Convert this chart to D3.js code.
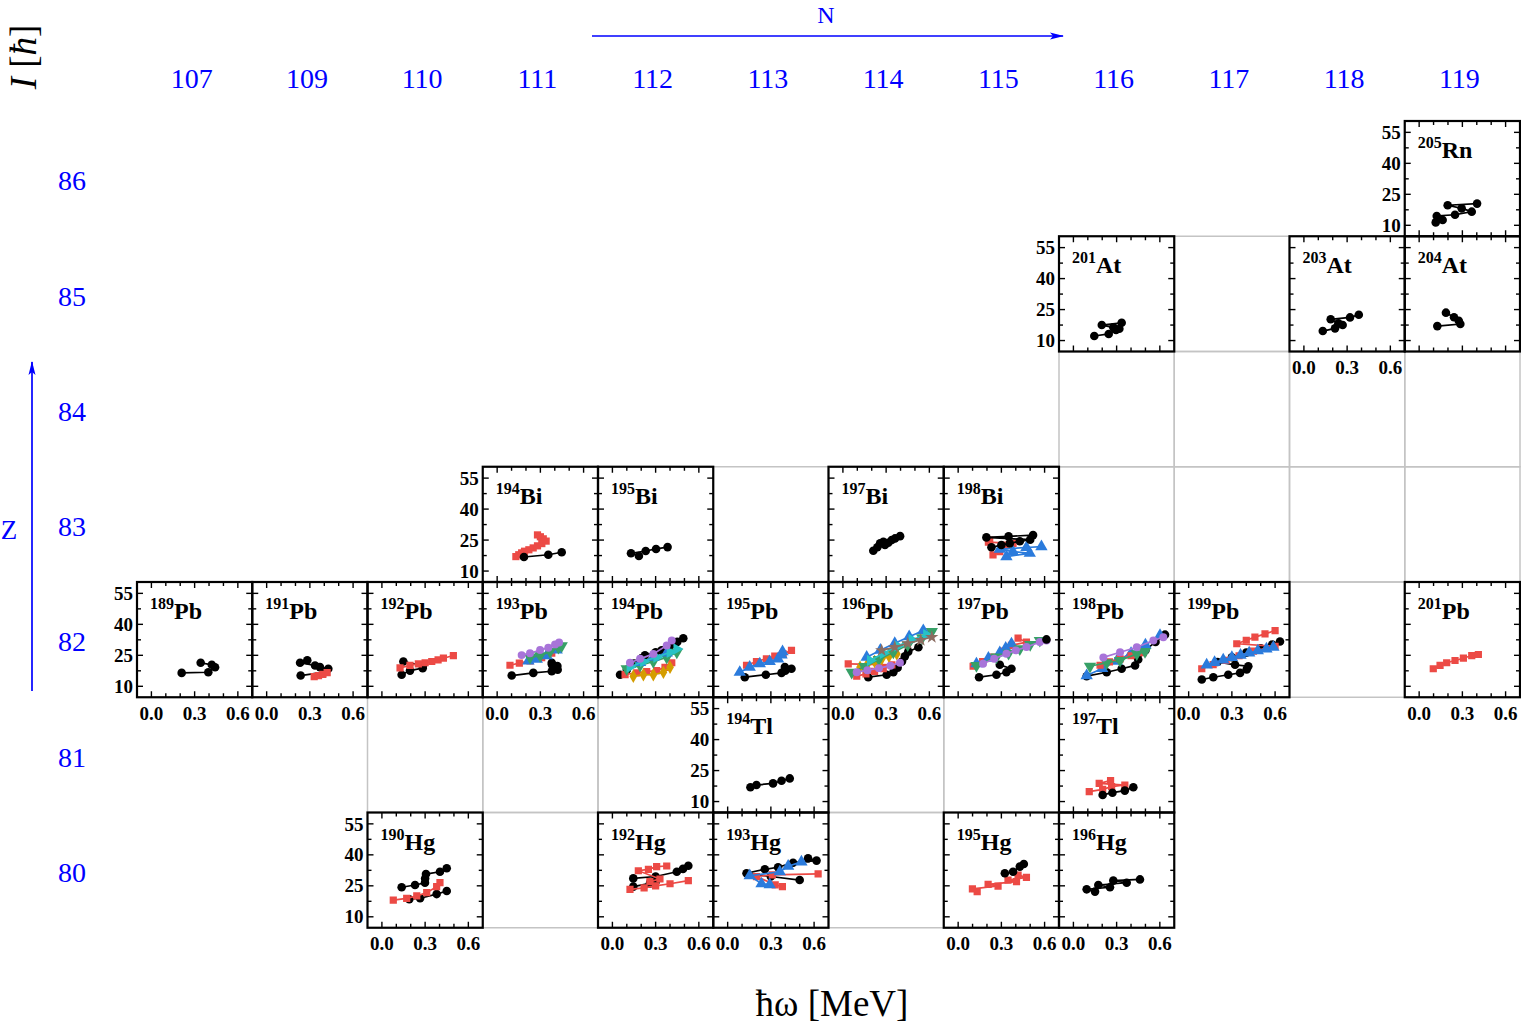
<!DOCTYPE html>
<html><head><meta charset="utf-8">
<script src="https://cdn.jsdelivr.net/npm/d3@7"></script>
<style>body{margin:0;background:#fff}svg{display:block}</style>
</head><body><svg id="c" width="1521" height="1024"></svg>
<script>
// ---------- categories / ticks ----------
const nColumns = [107,109,110,111,112,113,114,115,116,117,118,119];
const zRows = [86,85,84,83,82,81,80];
const wTicksMajor = [0.0,0.3,0.6];
const wTicksAll = [0,0.1,0.2,0.3,0.4,0.5,0.6];
const iTicksMajor = [10,25,40,55];
const iTicksAll = [10,17.5,25,32.5,40,47.5,55];
// [element, A, Z, N]
const nuclei = [
 ["Rn",205,86,119],
 ["At",201,85,116],["At",203,85,118],["At",204,85,119],
 ["Bi",194,83,111],["Bi",195,83,112],["Bi",197,83,114],["Bi",198,83,115],
 ["Pb",189,82,107],["Pb",191,82,109],["Pb",192,82,110],["Pb",193,82,111],["Pb",194,82,112],
 ["Pb",195,82,113],["Pb",196,82,114],["Pb",197,82,115],["Pb",198,82,116],["Pb",199,82,117],["Pb",201,82,119],
 ["Tl",194,81,113],["Tl",197,81,116],
 ["Hg",190,80,110],["Hg",192,80,112],["Hg",193,80,113],["Hg",195,80,115],["Hg",196,80,116]
];
// empty framed cells [Z, N]
const emptyCells = [[85,117],[84,116],[84,117],[84,118],[84,119],[83,113],[83,116],[83,117],[83,118],[83,119],
 [82,118],[81,110],[81,111],[81,112],[81,114],[81,115],[80,111],[80,114]];

// ---------- series: [colorKey, [[hbar-omega (MeV), I (hbar)], ...]] ----------
const Rn205 = [["k",[[0.115,11.4],[0.163,12.6],[0.122,14.5],[0.249,15.1],[0.365,16.6],[0.295,18.2],[0.198,19.7],[0.402,20.5]]]];
const At201 = [["k",[[0.145,12.2],[0.245,13.2],[0.296,15.1],[0.319,15.7],[0.277,16.4],[0.197,17.5],[0.335,18.6]]]];
const At203 = [["k",[[0.131,14.6],[0.216,15.9],[0.269,17.5],[0.239,18.3],[0.186,20.3],[0.320,21.2],[0.381,22.5]]]];
const At204 = [["k",[[0.126,17.0],[0.286,18.0],[0.275,19.6],[0.242,21.3],[0.186,23.5]]]];
const Bi194 = [["r",[[0.13,17.0],[0.15,17.9],[0.17,18.8],[0.19,19.6],[0.22,20.3],[0.25,21.2],[0.28,22.2],[0.31,23.3],[0.34,24.5],[0.32,25.6],[0.30,26.6],[0.28,27.5]]],
 ["k",[[0.186,16.8],[0.355,17.9],[0.448,19.1]]]];
const Bi195 = [["k",[[0.184,17.3],[0.129,18.6],[0.231,19.7],[0.303,20.7],[0.383,21.6]]]];
const Bi197 = [["k",[[0.211,19.8],[0.239,21.5],[0.292,22.6],[0.258,23.4],[0.315,23.7],[0.281,24.2],[0.339,25.0],[0.362,25.8],[0.397,26.9]]]];
const Bi198 = [["r",[[0.242,17.8],[0.289,19.4],[0.324,22.6],[0.381,23.4],[0.21,24.0],[0.219,25.0]]],
 ["b",[[0.335,17.0],[0.497,18.6],[0.38,19.4],[0.289,20.6],[0.474,21.4],[0.578,21.8]]],
 ["k",[[0.231,21.5],[0.30,22.6],[0.358,23.4],[0.428,24.4],[0.50,25.2],[0.196,26.3],[0.35,26.8],[0.52,27.4]]]];
const Pb189 = [["k",[[0.21,16.5],[0.395,16.8],[0.442,19.2],[0.419,20.4],[0.342,21.4]]]];
const Pb191 = [["k",[[0.236,15.2],[0.41,17.0],[0.428,18.5],[0.37,19.3],[0.336,20.1],[0.232,21.4],[0.282,22.6]]],
 ["r",[[0.33,14.7],[0.36,15.2],[0.39,15.8],[0.42,16.6]]]];
const Pb192 = [["k",[[0.137,15.6],[0.195,17.6],[0.283,18.8],[0.285,19.9],[0.149,22.0]]],
 ["r",[[0.126,18.9],[0.195,20.1],[0.253,20.9],[0.30,21.4],[0.346,22.0],[0.39,22.8],[0.427,23.6],[0.496,24.9]]]];
const Pb193 = [["k",[[0.101,15.2],[0.251,16.5],[0.379,17.3],[0.42,18.0],[0.418,19.8],[0.38,20.5],[0.379,21.4]]],
 ["r",[[0.089,20.2],[0.154,21.2],[0.228,22.3],[0.309,23.9],[0.379,26.0],[0.432,29.6]]],
 ["b",[[0.217,22.3],[0.275,23.1],[0.344,24.8],[0.413,27.6]]],
 ["g",[[0.228,24.0],[0.298,24.8],[0.367,26.8],[0.425,28.8],[0.448,29.6]]],
 ["p",[[0.17,25.1],[0.228,26.0],[0.298,27.6],[0.355,28.7],[0.402,30.3],[0.43,31.2]]]];
const Pb194 = [["k",[[0.053,15.6],[0.10,18.0],[0.15,21.0],[0.20,23.5],[0.226,25.0],[0.30,26.5],[0.342,27.4],[0.40,29.5],[0.45,31.5],[0.492,33.3]]],
 ["r",[[0.088,15.7],[0.169,16.5],[0.238,17.1],[0.307,17.6],[0.365,19.2],[0.412,21.4]]],
 ["y",[[0.145,14.9],[0.215,15.6],[0.284,15.6],[0.354,16.8],[0.40,19.2]]],
 ["g",[[0.099,18.5],[0.192,20.1],[0.284,22.0],[0.377,24.0],[0.447,26.5]]],
 ["b",[[0.192,21.5],[0.284,24.1],[0.377,26.1]]],
 ["c",[[0.122,19.3],[0.215,22.0],[0.307,24.1],[0.40,26.5],[0.447,28.1]]],
 ["p",[[0.122,21.4],[0.192,23.3],[0.284,25.7],[0.377,29.8],[0.412,32.2]]]];
const Pb195 = [["k",[[0.119,14.4],[0.265,15.6],[0.374,16.5],[0.40,17.5],[0.443,18.5],[0.397,19.3]]],
 ["r",[[0.131,20.2],[0.20,22.0],[0.269,23.3],[0.327,24.6],[0.385,25.7],[0.443,27.4]]],
 ["b",[[0.084,16.8],[0.153,19.3],[0.223,20.9],[0.292,22.0],[0.35,23.3],[0.374,25.2],[0.381,26.8]]]];
const Pb196 = [["k",[[0.176,14.4],[0.304,15.6],[0.35,16.8],[0.38,19.0],[0.41,22.0],[0.43,24.5],[0.454,26.8],[0.524,28.9]]],
 ["r",[[0.096,14.9],[0.16,16.0],[0.22,17.2],[0.28,18.6],[0.34,20.4],[0.037,20.9]]],
 ["y",[[0.119,19.2],[0.17,20.7],[0.22,22.0],[0.27,23.3],[0.32,24.5],[0.374,25.7]]],
 ["g",[[0.061,16.8],[0.15,19.5],[0.25,23.0],[0.35,26.5],[0.45,30.0],[0.55,33.5],[0.617,36.5]]],
 ["b",[[0.165,24.1],[0.26,27.5],[0.36,30.8],[0.46,34.0],[0.558,37.0]]],
 ["c",[[0.19,22.5],[0.28,26.0],[0.38,29.5],[0.48,32.5],[0.58,35.0]]],
 ["p",[[0.096,16.8],[0.17,17.8],[0.25,18.8],[0.33,20.0],[0.396,21.4]]],
 ["n",[[0.269,27.4],[0.36,29.0],[0.45,30.8],[0.54,32.4],[0.617,33.8]]]];
const Pb197 = [["k",[[0.145,14.4],[0.266,15.6],[0.335,16.8],[0.37,18.5],[0.289,20.4]]],
 ["r",[[0.104,19.7],[0.17,21.9],[0.242,24.1],[0.31,27.0],[0.37,29.8],[0.474,31.4],[0.416,33.3]]],
 ["b",[[0.127,20.9],[0.21,23.6],[0.289,26.3],[0.33,28.5],[0.37,30.6]]],
 ["g",[[0.127,20.0],[0.266,24.1],[0.35,26.0],[0.428,28.1],[0.50,30.2],[0.567,32.2]]],
 ["p",[[0.173,20.9],[0.25,23.3],[0.335,25.8],[0.40,27.4],[0.474,29.0],[0.567,31.4],[0.613,32.2]]],
 ["k",[[0.613,32.7]]]];
const Pb198 = [["k",[[0.092,14.9],[0.231,16.8],[0.335,18.5],[0.428,20.1],[0.45,23.0],[0.50,27.5],[0.57,31.5],[0.636,35.0]]],
 ["b",[[0.092,15.2],[0.20,18.6],[0.30,22.2],[0.40,26.0],[0.50,30.0],[0.601,34.6]]],
 ["r",[[0.185,20.2],[0.25,21.8],[0.324,23.3],[0.40,24.8],[0.486,26.3]]],
 ["g",[[0.115,19.7],[0.231,21.4],[0.324,22.5],[0.44,25.7],[0.497,26.8]]],
 ["p",[[0.208,24.0],[0.324,26.5],[0.44,28.9],[0.555,32.2],[0.624,33.8]]]];
const Pb199 = [["k",[[0.091,13.3],[0.171,14.4],[0.275,15.6],[0.357,16.5],[0.403,18.2],[0.414,19.7],[0.322,20.4],[0.20,21.8],[0.30,24.1],[0.40,26.3],[0.50,28.4],[0.58,30.2],[0.634,31.7]]],
 ["r",[[0.091,18.5],[0.17,20.5],[0.26,22.6],[0.35,24.8],[0.45,27.0],[0.60,29.4],[0.334,30.6],[0.40,32.3],[0.46,33.8],[0.53,35.4],[0.60,37.0]]],
 ["b",[[0.125,20.4],[0.18,21.6],[0.24,22.8],[0.30,24.0],[0.36,25.1],[0.42,26.2],[0.48,27.2],[0.54,28.1],[0.588,28.9]]]];
const Pb201 = [["r",[[0.098,18.5],[0.145,20.1],[0.191,21.4],[0.249,22.5],[0.307,23.6],[0.365,24.9],[0.411,25.4]]]];
const Tl194 = [["k",[[0.158,16.9],[0.20,18.0],[0.315,18.8],[0.374,20.1],[0.431,21.2]]]];
const Tl197 = [["r",[[0.11,14.8],[0.203,15.9],[0.265,17.2],[0.357,18.0],[0.179,18.8],[0.258,20.1]]],
 ["k",[[0.203,13.2],[0.271,14.3],[0.357,15.3],[0.416,16.9]]]];
const Hg190 = [["k",[[0.137,24.3],[0.23,25.4],[0.299,26.5],[0.30,28.5],[0.306,30.7],[0.403,31.8],[0.45,33.5]]],
 ["k",[[0.19,18.5],[0.265,19.0],[0.38,21.0],[0.45,22.5]]],
 ["r",[[0.079,18.1],[0.172,18.9],[0.242,20.1],[0.311,21.7],[0.38,24.6],[0.403,26.5]]]];
const Hg192 = [["k",[[0.145,24.6],[0.261,26.2],[0.30,27.0]]],
 ["k",[[0.145,28.6],[0.30,29.5],[0.447,31.8],[0.49,33.2],[0.527,34.7]]],
 ["r",[[0.122,23.3],[0.22,24.0],[0.30,25.0],[0.40,26.0],[0.527,27.5]]],
 ["r",[[0.26,27.0],[0.33,28.3],[0.18,32.3],[0.25,33.0],[0.307,34.3],[0.377,34.6]]]];
const Hg193 = [["k",[[0.5,27.8],[0.30,29.5],[0.131,31.1],[0.258,33.0],[0.35,34.0],[0.454,36.2],[0.617,37.2],[0.558,38.3]]],
 ["r",[[0.38,24.6],[0.33,25.5],[0.20,29.5],[0.31,30.3],[0.628,30.8]]],
 ["b",[[0.292,25.6],[0.235,26.0],[0.153,29.9],[0.362,31.8],[0.42,34.5],[0.512,36.6]]]];
const Hg195 = [["r",[[0.132,22.2],[0.099,23.5],[0.277,24.9],[0.208,25.7],[0.405,27.0],[0.346,27.8],[0.474,29.1],[0.416,30.2]]],
 ["k",[[0.324,31.1],[0.381,31.8],[0.428,34.3],[0.456,35.6]]]];
const Hg196 = [["k",[[0.15,22.2],[0.092,23.3],[0.254,24.3],[0.173,25.4],[0.37,26.5],[0.277,27.5],[0.462,28.1]]]];

const seriesData = {Rn205,At201,At203,At204,Bi194,Bi195,Bi197,Bi198,Pb189,Pb191,Pb192,Pb193,Pb194,Pb195,Pb196,Pb197,Pb198,Pb199,Pb201,Tl194,Tl197,Hg190,Hg192,Hg193,Hg195,Hg196};

// ---------- styles ----------
const colors = {k:"#000000", r:"#ec4a45", b:"#2b7bdc", g:"#37a067", p:"#a874d9", c:"#28c2c6", y:"#d49d00", n:"#8c6d62"};
const symbols = {k:d3.symbolCircle, r:d3.symbolSquare, b:d3.symbolTriangle, g:d3.symbolTriangle, p:d3.symbolCircle, c:d3.symbolTriangle, y:d3.symbolDiamond, n:d3.symbolStar};
const symSize = {k:58, r:52, b:66, g:66, p:50, c:58, y:52, n:54};
const symRot = {g:180, c:90};

const svg = d3.select("#c");
const cell = 115.25;
const colScale = d3.scaleBand().domain(nColumns).range([137, 137 + cell*nColumns.length]);
const rowScale = d3.scaleBand().domain(zRows).range([121, 121 + cell*zRows.length]);
const xs = d3.scaleLinear().domain([-0.1,0.7]).range([0,cell]);
const ys = d3.scaleLinear().domain([4.7,60.5]).range([cell,0]);

const serif = "'Liberation Serif','Times New Roman',serif";

// empty grey cells
svg.append("g").selectAll("rect").data(emptyCells).join("rect")
  .attr("x", d=>colScale(d[1])).attr("y", d=>rowScale(d[0]))
  .attr("width", cell).attr("height", cell)
  .attr("fill","none").attr("stroke","#c4c4c4").attr("stroke-width",1.5);

// which panels get tick labels
const firstInRow = {}; const lastInCol = {};
nuclei.forEach(([el,A,Z,N])=>{
  if(firstInRow[Z]===undefined || N < firstInRow[Z]) firstInRow[Z]=N;
  if(lastInCol[N]===undefined || Z < lastInCol[N]) lastInCol[N]=Z;
});

const line = d3.line().x(d=>xs(d[0])).y(d=>ys(d[1]));

nuclei.forEach(([el,A,Z,N])=>{
  const g = svg.append("g").attr("transform",`translate(${colScale(N)},${rowScale(Z)})`);
  const key = el + A;
  const clipId = "clip"+key;
  g.append("clipPath").attr("id",clipId).append("rect").attr("width",cell).attr("height",cell);
  const pg = g.append("g").attr("clip-path",`url(#${clipId})`);
  (seriesData[key]||[]).forEach(([ck,pts])=>{
    pg.append("path").attr("d", line(pts)).attr("fill","none")
      .attr("stroke", colors[ck]).attr("stroke-width",1.7);
    pg.selectAll(null).data(pts).join("path")
      .attr("d", d3.symbol().type(symbols[ck]).size(symSize[ck]))
      .attr("transform", d=>`translate(${xs(d[0])},${ys(d[1])}) rotate(${symRot[ck]||0})`)
      .attr("fill", colors[ck]);
  });
  // ticks (inward, all 4 sides)
  const tk = g.append("g").attr("stroke","#000").attr("stroke-width",1.4);
  wTicksAll.forEach(t=>{
    const L = wTicksMajor.some(m=>Math.abs(m-t)<1e-9)?6:4;
    tk.append("line").attr("x1",xs(t)).attr("x2",xs(t)).attr("y1",cell).attr("y2",cell-L);
    tk.append("line").attr("x1",xs(t)).attr("x2",xs(t)).attr("y1",0).attr("y2",L);
  });
  iTicksAll.forEach(t=>{
    const L = iTicksMajor.includes(t)?6:4;
    tk.append("line").attr("y1",ys(t)).attr("y2",ys(t)).attr("x1",0).attr("x2",L);
    tk.append("line").attr("y1",ys(t)).attr("y2",ys(t)).attr("x1",cell).attr("x2",cell-L);
  });
  g.append("rect").attr("width",cell).attr("height",cell).attr("fill","none")
    .attr("stroke","#000").attr("stroke-width",2.2);
  // label
  const t = g.append("text").attr("x",13).attr("y",37).attr("font-family",serif)
    .attr("font-weight","bold").attr("fill","#000");
  t.append("tspan").attr("font-size",16).attr("dy",-10).text(A);
  t.append("tspan").attr("font-size",24).attr("dy",10).text(el);
  if(firstInRow[Z]===N){
    g.selectAll(null).data(iTicksMajor).join("text")
      .attr("x",-4).attr("y",d=>ys(d)).attr("dy","0.35em").attr("text-anchor","end")
      .attr("font-family",serif).attr("font-weight","bold").attr("font-size",19).text(d=>d);
  }
  if(lastInCol[N]===Z){
    g.selectAll(null).data(wTicksMajor).join("text")
      .attr("x",d=>xs(d)).attr("y",cell+16).attr("dy","0.35em").attr("text-anchor","middle")
      .attr("font-family",serif).attr("font-weight","bold").attr("font-size",19).text(d=>d.toFixed(1));
  }
});

// N / Z labels
const blue = "#0000ff";
svg.append("g").selectAll("text").data(nColumns).join("text")
  .attr("x",d=>colScale(d)+cell/2-3).attr("y",78).attr("dy","0.35em").attr("text-anchor","middle")
  .attr("font-family",serif).attr("font-size",28).attr("fill",blue).text(d=>d);
svg.append("g").selectAll("text").data(zRows).join("text")
  .attr("x",72).attr("y",d=>rowScale(d)+cell/2+2).attr("dy","0.35em").attr("text-anchor","middle")
  .attr("font-family",serif).attr("font-size",28).attr("fill",blue).text(d=>d);

const defs = svg.append("defs");
defs.append("marker").attr("id","arr").attr("viewBox","0 0 14 10").attr("refX",13).attr("refY",5)
  .attr("markerWidth",14).attr("markerHeight",10).attr("markerUnits","userSpaceOnUse").attr("orient","auto")
  .append("path").attr("d","M0,1.5 L14,5 L0,8.5 L3,5 Z").attr("fill",blue);
svg.append("line").attr("x1",592).attr("x2",1063).attr("y1",36).attr("y2",36)
  .attr("stroke",blue).attr("stroke-width",1.7).attr("marker-end","url(#arr)");
svg.append("text").attr("x",826).attr("y",23).attr("text-anchor","middle")
  .attr("font-family",serif).attr("font-size",24).attr("fill",blue).text("N");
svg.append("line").attr("x1",32).attr("x2",32).attr("y1",691).attr("y2",362)
  .attr("stroke",blue).attr("stroke-width",1.7).attr("marker-end","url(#arr)");
svg.append("text").attr("x",9).attr("y",530).attr("dy","0.35em").attr("text-anchor","middle")
  .attr("font-family",serif).attr("font-size",27).attr("fill",blue).text("Z");

// axis titles
const yt = svg.append("text").attr("transform","translate(36,57) rotate(-90)").attr("text-anchor","middle")
  .attr("font-family",serif).attr("font-size",37).attr("fill","#000");
yt.append("tspan").attr("font-style","italic").text("I");
yt.append("tspan").text(" [");
yt.append("tspan").attr("font-style","italic").text("ħ");
yt.append("tspan").text("]");
svg.append("text").attr("x",832).attr("y",1016).attr("text-anchor","middle")
  .attr("font-family",serif).attr("font-size",37).attr("fill","#000").text("ħω [MeV]");
</script></body></html>
